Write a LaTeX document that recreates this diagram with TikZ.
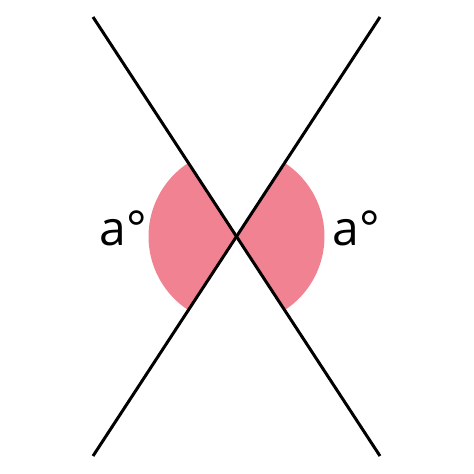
\documentclass[tikz,border=0pt]{standalone}
\usepackage{fontspec}
\setmainfont{Open Sans}
\definecolor{anglepink}{RGB}{241,130,146}
\begin{document}
\begin{tikzpicture}[x=1pt,y=-1pt,
  crossline/.style={line width=3pt,black},
  sector/.style={fill=anglepink,draw=none},
  anglelabel/.style={font=\fontsize{48}{52}\selectfont,inner sep=0pt,text=black,anchor=base}]
\useasboundingbox (0,0) rectangle (474,474);
\fill[white] (0,0) rectangle (474,474);
\coordinate (O) at (236.5,236.5);
\coordinate (TL) at (93,17);
\coordinate (TR) at (380,17);
\coordinate (BL) at (93,456);
\coordinate (BR) at (380,456);
\fill[sector] (O) -- ++(123.2:88 and -88) arc[start angle=-123.2,end angle=-236.8,radius=88] -- cycle;
\fill[sector] (O) -- ++(56.8:88 and -88) arc[start angle=-56.8,end angle=56.8,radius=88] -- cycle;
\draw[crossline] (TL) -- (BR);
\draw[crossline] (TR) -- (BL);
\node[anglelabel] (la) at (123,245) {a°};
\node[anglelabel] (ra) at (356,245) {a°};
\end{tikzpicture}
\end{document}
